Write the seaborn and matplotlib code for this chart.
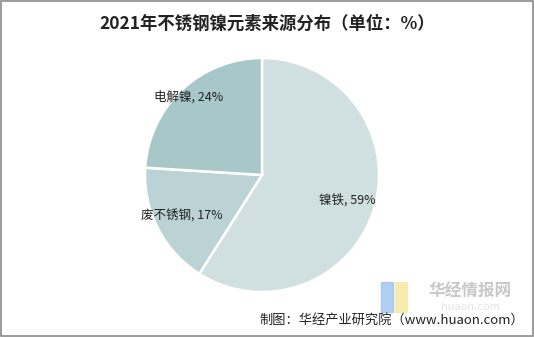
import matplotlib
matplotlib.use("Agg")
import matplotlib.pyplot as plt
import seaborn as sns
import numpy as np
from matplotlib.patches import Rectangle

categories = ["镍铁", "废不锈钢", "电解镍"]
values = [59, 17, 24]
colors = ["#d0dfe0", "#bcd3d5", "#a7c7c9"]
label_dist = [0.76, 0.77, 0.92]
title = "2021年不锈钢镍元素来源分布（单位：%）"
source = "制图：华经产业研究院（www.huaon.com）"

sns.set_theme(style="white")
plt.rcParams['font.family'] = ['Noto Sans CJK SC', 'DejaVu Sans']

W, H = 534, 337
fig = plt.figure(figsize=(W / 100, H / 100), dpi=100)
fig.patch.set_facecolor("white")

cx, cy, r = 262, 175, 117
ax = fig.add_axes([(cx - r) / W, (H - cy - r) / H, 2 * r / W, 2 * r / H])
labels = [f"{c}, {v}%" for c, v in zip(categories, values)]
wedges, texts = ax.pie(values, colors=colors, startangle=90, counterclock=False,
                       labels=labels, labeldistance=0.8,
                       wedgeprops=dict(edgecolor="white", linewidth=1.8),
                       textprops=dict(fontsize=9, color="#222222"))
for w, t, d in zip(wedges, texts, label_dist):
    ang = np.deg2rad((w.theta1 + w.theta2) / 2)
    t.set_position((d * np.cos(ang), d * np.sin(ang)))
    t.set_ha("center")
    t.set_va("center")
ax.set_aspect("equal")
ax.set_xlim(-1, 1)
ax.set_ylim(-1, 1)
ax.axis("off")

fig.text(0.5, (H - 24) / H, title, ha="center", va="center", fontsize=12.5,
         fontweight="bold", color="#222222")

# watermark
fig.text(470 / W, (H - 292) / H, "华经情报网", ha="center", va="center",
         fontsize=12, fontweight="bold", color="#c8c8c8")
fig.text(470 / W, (H - 307) / H, "huaon.com", ha="center", va="center",
         fontsize=8, color="#e3e3e3")
fig.patches.append(Rectangle((381 / W, (H - 312) / H), 12 / W, 30 / H,
                             transform=fig.transFigure, color="#9cc3f0", alpha=0.8))
fig.patches.append(Rectangle((395 / W, (H - 312) / H), 12 / W, 30 / H,
                             transform=fig.transFigure, color="#f7e9a8", alpha=0.9))

fig.text(524 / W, (H - 320) / H, source, ha="right", va="center",
         fontsize=9.5, color="#222222")

fig.patches.append(Rectangle((1 / W, 1 / H), (W - 2) / W, (H - 2) / H,
                             transform=fig.transFigure, fill=False,
                             edgecolor="#8a8a8a", linewidth=1.2))

fig.savefig("out.png", dpi=100)
